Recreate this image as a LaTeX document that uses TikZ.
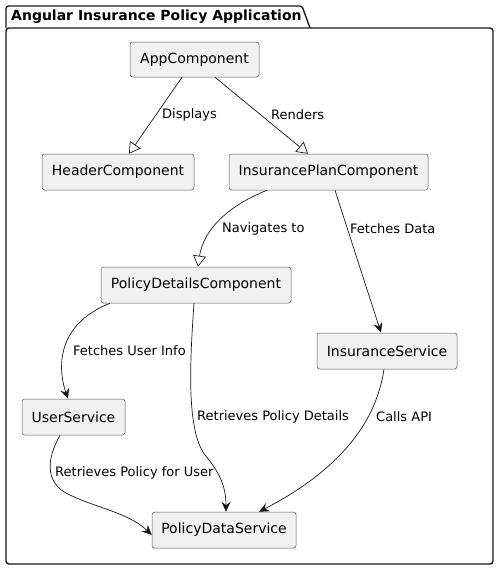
\documentclass[tikz,border=0pt]{standalone}
\usepackage{fontspec}
\setmainfont{DejaVu Sans}
\usetikzlibrary{arrows.meta}
\definecolor{boxfill}{HTML}{F1F1F1}
\definecolor{ink}{HTML}{181818}
\definecolor{boxline}{HTML}{555555}
\begin{document}
\begin{tikzpicture}[x=1pt,y=-1pt,
  comp/.style={draw=boxline, fill=boxfill, rounded corners=2.5pt, line width=0.5pt,
    inner sep=0pt, font=\fontsize{14}{16}\selectfont},
  lbl/.style={anchor=west, inner sep=0pt, font=\fontsize{13}{15}\selectfont},
  ext/.style={draw=ink, line width=0.7pt, -{Triangle[open, length=11pt, width=13pt, fill=white]}},
  dep/.style={draw=ink, line width=0.7pt, -{Stealth[length=10pt, width=9pt, inset=3.5pt]}}]
\useasboundingbox (0,0) rectangle (499,570);
% package frame
\draw[ink, line width=1.4pt, rounded corners=3pt] (6,28) rectangle (493,564);
\draw[ink, line width=1.4pt, rounded corners=2.5pt] (6,28) -- (6,6) -- (302,6) -- (310,28);
\node[anchor=west, inner sep=0pt, font=\fontsize{14}{16}\selectfont\bfseries] (title) at (11,17) {Angular Insurance Policy Application};
% nodes
\node[comp, minimum width=129pt, minimum height=35pt] (app) at (194.5,59.5) {AppComponent};
\node[comp, minimum width=152pt, minimum height=36pt] (header) at (118,172) {HeaderComponent};
\node[comp, minimum width=199pt, minimum height=36pt] (plan) at (328.5,172) {InsurancePlanComponent};
\node[comp, minimum width=190pt, minimum height=36pt] (details) at (196,285) {PolicyDetailsComponent};
\node[comp, minimum width=140pt, minimum height=36pt] (ins) at (387,351) {InsuranceService};
\node[comp, minimum width=103pt, minimum height=36pt] (user) at (73.5,417) {UserService};
\node[comp, minimum width=144pt, minimum height=36pt] (pds) at (224,530) {PolicyDataService};
% connectors
\draw[ext] ([xshift=-12.5pt]app.south) -- ([xshift=11pt]header.north);
\draw[ext] ([xshift=20.5pt]app.south) -- ([xshift=-20.5pt]plan.north);
\draw[ext] ([xshift=-61.5pt]plan.south) .. controls (225,207) and (203,232) .. ([xshift=2pt]details.north);
\draw[dep] ([xshift=6.5pt]plan.south) -- ([xshift=-6pt]ins.north);
\draw[dep] ([xshift=-86pt]details.south) .. controls (55,325) and (58,370) .. ([xshift=-5.5pt]user.north);
\draw[dep] ([xshift=-2pt]details.south) .. controls (190,360) and (186,430) .. (205,455) .. controls (222,475) and (226,490) .. ([xshift=2pt]pds.north);
\draw[dep] ([xshift=-3pt]ins.south) .. controls (375,430) and (330,475) .. ([xshift=35pt]pds.north);
\draw[dep] ([xshift=-13.5pt]user.south) .. controls (46,460) and (46,482) .. (66,493) .. controls (92,507) and (128,512) .. ([yshift=-5pt]pds.west);
% labels
\node[lbl] (l1) at (162,115) {Displays};
\node[lbl] (l2) at (271,115) {Renders};
\node[lbl] (l3) at (222,229) {Navigates to};
\node[lbl] (l4) at (350,229) {Fetches Data};
\node[lbl] (l5) at (73,351) {Fetches User Info};
\node[lbl] (l6) at (197,417) {Retrieves Policy Details};
\node[lbl] (l7) at (376,417) {Calls API};
\node[lbl] (l8) at (55,473) {Retrieves Policy for User};
\end{tikzpicture}
\end{document}
